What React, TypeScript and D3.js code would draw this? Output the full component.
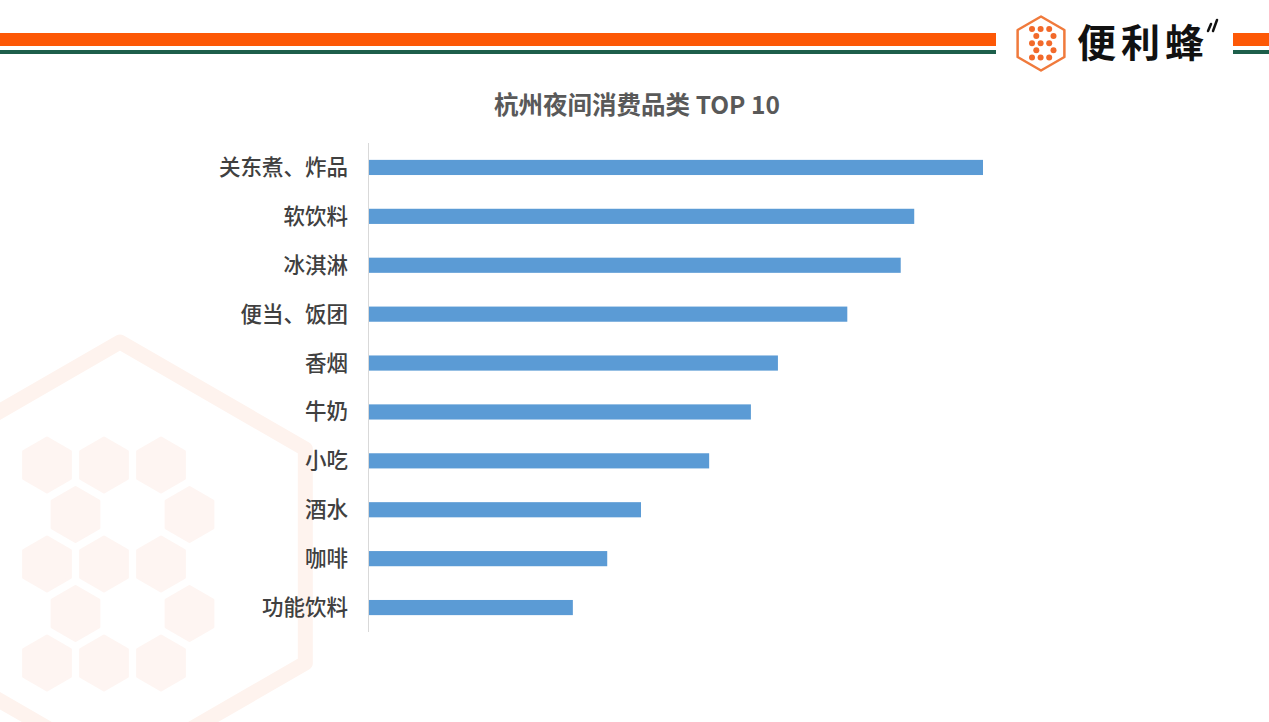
import React from "react";
import * as d3 from "d3";

const WIDTH = 1269;
const HEIGHT = 722;

// chart data (relative index, longest bar = 100)
const categories = ["关东煮、炸品", "软饮料", "冰淇淋", "便当、饭团", "香烟", "牛奶", "小吃", "酒水", "咖啡", "功能饮料"];
const values = [100, 88.8, 86.6, 77.9, 66.6, 62.2, 55.4, 44.3, 38.8, 33.2];
const title = "杭州夜间消费品类 TOP 10";
const brand = "便利蜂";

// "8" shaped honeycomb used by the logo and the background decoration
const honeyRows = [[0, 1, 2], [0.5, 2.5], [0, 1, 2], [0.5, 2.5], [0, 1, 2]];

const ORANGE = "#fd5806";
const GREEN = "#1d5f4b";
const BAR = "#5b9bd5";

// pointy-top hexagon path
const hexPath = (cx: number, cy: number, r: number) => {
  const pts = d3.range(6).map((i) => {
    const a = (Math.PI / 3) * i - Math.PI / 2;
    return [cx + r * Math.cos(a), cy + r * Math.sin(a)] as [number, number];
  });
  return d3.line().curve(d3.curveLinearClosed)(pts) as string;
};

const Background = () => {
  const cells = honeyRows.flatMap((row, ri) =>
    row.map((c, ci) => (
      <path
        key={`${ri}-${ci}`}
        d={hexPath(47 + c * 57, 465 + ri * 49.5, 27)}
        fill="#fef5f2"
        stroke="#fef5f2"
        strokeWidth={3}
        strokeLinejoin="round"
      />
    ))
  );
  return (
    <g>
      <path d={hexPath(120, 556, 214)} fill="none" stroke="#fef3ee" strokeWidth={15} strokeLinejoin="round" />
      {cells}
    </g>
  );
};

const Header = () => {
  const dots = honeyRows.flatMap((row, ri) =>
    row.map((c, ci) => (
      <circle key={`${ri}-${ci}`} cx={1032 + c * 8.6} cy={29 + ri * 7.1} r={3} fill="#f2692a" />
    ))
  );
  return (
    <g>
      <rect x={0} y={33} width={996} height={13} fill={ORANGE} />
      <rect x={0} y={50} width={996} height={4} fill={GREEN} />
      <rect x={1233} y={33} width={WIDTH - 1233} height={13} fill={ORANGE} />
      <rect x={1233} y={50} width={WIDTH - 1233} height={4} fill={GREEN} />
      <path d={hexPath(1041, 43.5, 27)} fill="none" stroke="#f07a3c" strokeWidth={2.5} strokeLinejoin="round" />
      {dots}
      <text
        x={1077}
        y={57}
        fontFamily="'Noto Sans CJK SC', sans-serif"
        fontWeight={700}
        fontSize={39}
        letterSpacing={5}
        fill="#111"
      >
        {brand}
      </text>
      <path d="M1208,31 L1211,24 M1213,31 L1217,20" stroke="#111" strokeWidth={2.5} strokeLinecap="round" />
    </g>
  );
};

export default function App() {
  const y = d3
    .scaleBand()
    .domain(categories)
    .range([143, 632])
    .paddingInner(0.69)
    .paddingOuter(0.345);
  const x = d3.scaleLinear().domain([0, 100]).range([369, 983]);

  return (
    <svg width={WIDTH} height={HEIGHT} style={{ position: "absolute", left: 0, top: 0, background: "#fff" }}>
      <rect width={WIDTH} height={HEIGHT} fill="#fff" />
      <Background />
      <Header />
      <text
        x={637}
        y={114}
        textAnchor="middle"
        fontFamily="'Noto Sans CJK SC', sans-serif"
        fontWeight={700}
        fontSize={24.5}
        fill="#595959"
      >
        {title}
      </text>
      {categories.map((c, i) => (
        <g key={c}>
          <rect x={x(0)} y={y(c)} width={x(values[i]) - x(0)} height={y.bandwidth()} fill={BAR} />
          <text
            x={348}
            y={(y(c) as number) + y.bandwidth() / 2}
            dy="0.35em"
            textAnchor="end"
            fontFamily="'Noto Sans CJK SC', serif"
            fontWeight={500}
            fontSize={21.5}
            fill="#404040"
          >
            {c}
          </text>
        </g>
      ))}
      <line x1={368.5} x2={368.5} y1={143} y2={632} stroke="#d9d9d9" strokeWidth={1} />
    </svg>
  );
}
